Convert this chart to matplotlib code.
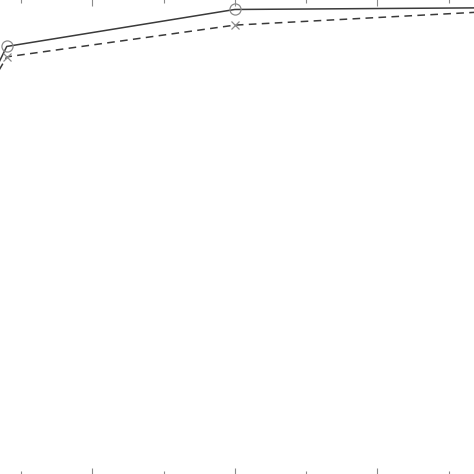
import matplotlib
matplotlib.use("Agg")
import matplotlib.pyplot as plt
from matplotlib.ticker import MultipleLocator

# values (x in tick units, y scaled 0..1 over the visible height)
x_vals = [-2.4, 0.8, 4.0, 8.0]
solid_vals = [-0.08, 0.902, 0.980, 0.984]
dashed_vals = [0.05, 0.880, 0.947, 0.979]

W = 474
fig = plt.figure(figsize=(4.74, 4.74), dpi=100)

# axes slightly larger than the figure so the spines fall just outside the crop
left_px, right_px, top_px, bottom_px = -5, 479, -2, 476
ax = fig.add_axes([left_px / W, (W - bottom_px) / W,
                   (right_px - left_px) / W, (bottom_px - top_px) / W])

def px_to_x(px):
    return 1 + (px - 21) / 71.25

def px_to_y(px):
    return 1 - px / W

ax.plot(x_vals, solid_vals, '-', color='#3a3a3a', lw=1.1,
        marker='o', ms=8, mfc='none', mec='#8a8a8a', mew=0.9)
ax.plot(x_vals, dashed_vals, '--', color='#3a3a3a', lw=1.1, dashes=(5, 3.5),
        marker='x', ms=6, mec='#8a8a8a', mew=0.9)

ax.set_xlim(px_to_x(left_px), px_to_x(right_px))
ax.set_ylim(px_to_y(bottom_px), px_to_y(top_px))

ax.xaxis.set_major_locator(MultipleLocator(2))
ax.xaxis.set_minor_locator(MultipleLocator(1))
ax.set_yticks([])
ax.tick_params(axis='x', which='both', direction='in', top=True, bottom=True,
               labelbottom=False, color='#8a8a8a', width=0.8)
ax.tick_params(axis='x', which='major', length=6)
ax.tick_params(axis='x', which='minor', length=3.5)
for s in ax.spines.values():
    s.set_color('#8a8a8a')

fig.savefig('out.png', dpi=100)
